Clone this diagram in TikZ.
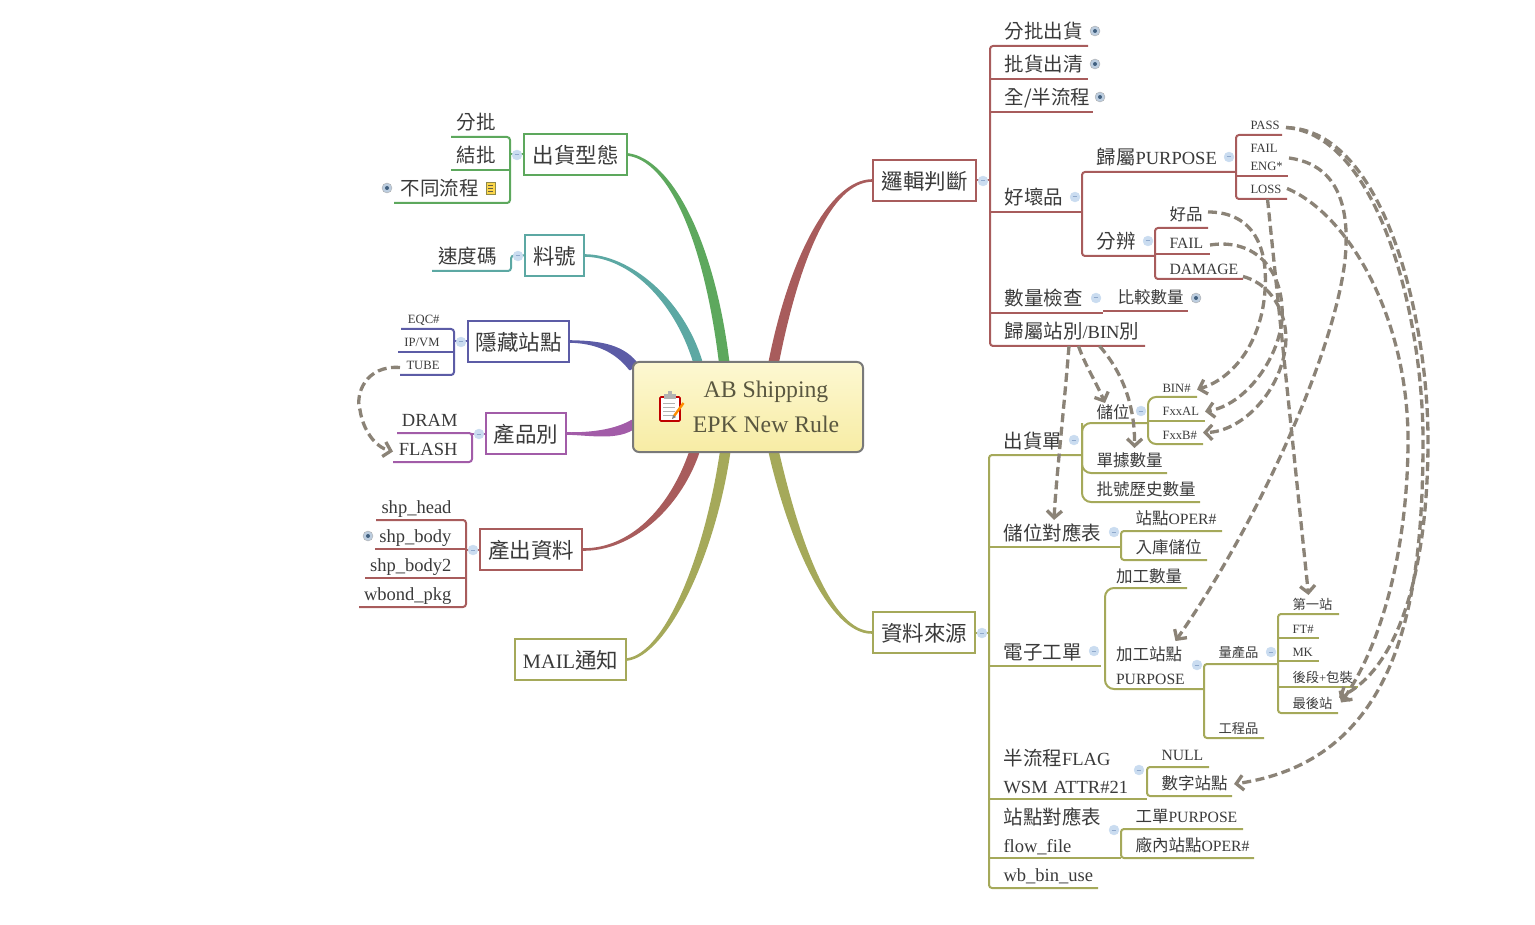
\documentclass[tikz,border=0pt]{standalone}
\usepackage{fontspec}
\setmainfont[Scale=0.95]{Liberation Serif}
\newfontfamily\cjk{Noto Sans CJK TC}
\usetikzlibrary{arrows.meta,backgrounds,calc}

\newcommand{\zh}[1]{{\cjk #1}}
\newcommand{\branch}[6]{\fill[#1,draw=#1,line width=2.6pt,line join=round] (#2) .. controls (#3) and (#4) .. (#5) -- (#6) .. controls ($(#4)+(#6)-(#5)$) and (#3) .. (#2) -- cycle;}

\definecolor{cred}{HTML}{A85C5C}
\definecolor{colive}{HTML}{A5A95A}
\definecolor{cgreen}{HTML}{5DA85D}
\definecolor{cteal}{HTML}{5CA8A3}
\definecolor{cblue}{HTML}{5C5CA6}
\definecolor{cpurple}{HTML}{A25CA8}
\definecolor{ctext}{HTML}{3A3A3A}
\definecolor{cdash}{HTML}{8B8377}
\definecolor{rtop}{HTML}{FDF8D2}
\definecolor{rbot}{HTML}{F7ECA4}
\definecolor{rtext}{HTML}{5A5740}
\definecolor{mfill}{HTML}{CADCF0}
\definecolor{mbar}{HTML}{8FA9CC}
\definecolor{pfill}{HTML}{BCCDDF}
\definecolor{pdot}{HTML}{41607F}

\tikzset{
  fbig/.style={font=\fontsize{19.5}{28.5}\selectfont,text height=14pt,text depth=7pt},
  fmid/.style={font=\fontsize{16.5}{24}\selectfont,text height=13pt,text depth=7pt},
  fsmall/.style={font=\fontsize{13.3}{18}\selectfont,text height=10pt,text depth=5pt},
  rtopic/.style={anchor=south west,inner sep=0pt,outer sep=0pt,text=ctext,align=left,text width=#1,
    execute at begin node={\leftskip=14.5pt}},
  ltopic/.style={anchor=south east,inner sep=0pt,outer sep=0pt,text=ctext,align=right,text width=#1,
    execute at begin node={\rightskip=14.5pt}},
  mainbox/.style={draw=#1,fill=white,line width=2pt,inner sep=0pt,text=ctext,
    font=\fontsize{21.5}{26}\selectfont,minimum height=41pt,text height=18pt,text depth=0pt},
  rootbox/.style={draw=gray!95!black,line width=2pt,rounded corners=6pt,top color=rtop,
    bottom color=rbot,inner sep=0pt,minimum width=230pt,minimum height=90pt,
    text=rtext,align=center,font=\fontsize{25}{35}\selectfont},
  expm/.style={circle,draw=mfill,fill=mfill,inner sep=0pt,minimum size=10pt,
    path picture={\draw[mbar,line width=1pt] (-2.4,0) -- (2.4,0);}},
  expp/.style={circle,draw=gray!65,fill=pfill,inner sep=0pt,minimum size=10pt,
    path picture={\fill[pdot] (0,0) circle (2);}},
  redline/.style={draw=cred,line width=2pt},
  oliveline/.style={draw=colive,line width=2pt},
  greenline/.style={draw=cgreen,line width=2pt},
  tealline/.style={draw=cteal,line width=2pt},
  blueline/.style={draw=cblue,line width=2pt},
  purpleline/.style={draw=cpurple,line width=2pt},
  relation/.style={draw=cdash,line width=3.3pt,dash pattern=on 9pt off 4.5pt,
    -{Straight Barb[length=7pt,width=15pt]}}
}

\begin{document}
\begin{tikzpicture}[x=1pt,y=-1pt]
\useasboundingbox (0,0) rectangle (1535,925);

% centre and main topics
\node[rootbox] (root) at (748,407) {\hspace*{36pt}AB Shipping\\\hspace*{36pt}EPK New Rule};
\node[mainbox=cgreen,minimum width=103pt] (ship) at (575.5,154.5) {\zh{出貨型態}};
\node[mainbox=cteal,minimum width=59pt] (part) at (554.5,255.5) {\zh{料號}};
\node[mainbox=cblue,minimum width=101pt] (hide) at (518.5,341.5) {\zh{隱藏站點}};
\node[mainbox=cpurple,minimum width=80pt] (prod) at (526,433.5) {\zh{產品別}};
\node[mainbox=cred,minimum width=102pt] (outp) at (531,549.5) {\zh{產出資料}};
\node[mainbox=colive,minimum width=111pt] (mail) at (570.5,659.5) {MAIL\zh{通知}};
\node[mainbox=cred,minimum width=103pt] (logic) at (924.5,180.5) {\zh{邏輯判斷}};
\node[mainbox=colive,minimum width=102pt] (srcd) at (924,632.5) {\zh{資料來源}};

\begin{scope}[on background layer]
\branch{cgreen}{ship.east}{670,160}{705,240}{[xshift=-28pt]root.north}{[xshift=-20pt]root.north}
\branch{cteal}{part.east}{630,256}{675,300}{[xshift=-54pt]root.north}{[xshift=-47pt]root.north}
\branch{cblue}{hide.east}{595,342}{615,350}{[xshift=-2pt,yshift=-8pt]root.north west}{[xshift=4pt,yshift=-2pt]root.north west}
\branch{cpurple}{prod.east}{590,434}{615,431}{[yshift=-14pt]root.west}{[yshift=-22pt]root.west}
\branch{cred}{outp.east}{630,550}{670,510}{[xshift=-58pt]root.south}{[xshift=-50pt]root.south}
\branch{colive}{mail.east}{665,655}{705,560}{[xshift=-27pt]root.south}{[xshift=-19pt]root.south}
\branch{cred}{logic.west}{830,181}{790,260}{[xshift=22pt]root.north}{[xshift=30pt]root.north}
\branch{colive}{srcd.west}{830,633}{790,540}{[xshift=22pt]root.south}{[xshift=30pt]root.south}
\end{scope}

% left side
\node[ltopic=59pt,fbig] (sa) at (510,137) {\zh{分批}};
\node[ltopic=59pt,fbig] (sb) at (510,170) {\zh{結批}};
\node[ltopic=116pt,fbig] (sc) at (510,203) {\zh{不同流程}\hspace*{17pt}};
\draw[greenline,rounded corners=3pt] (sa.south west) -- (sa.south east) -- (sc.south east) -- (sc.south west);
\draw[greenline] (sb.south west) -- (sb.south east);
\draw[greenline] (ship.west) -- (ship.west -| sa.south east);

\node[ltopic=79pt,fbig] (pa) at (511,271) {\zh{速度碼}};
\draw[tealline,rounded corners=3pt] (pa.south west) -- (pa.south east) -- (pa.south east |- part.west) -- (part.west);

\node[ltopic=53pt,fsmall] (ha) at (454,329) {EQC\#};
\node[ltopic=56pt,fsmall] (hb) at (454,352) {IP/VM};
\node[ltopic=54pt,fsmall] (hc) at (454,375) {TUBE};
\draw[blueline,rounded corners=3pt] (ha.south west) -- (ha.south east) -- (hc.south east) -- (hc.south west);
\draw[blueline] (hb.south west) -- (hb.south east);
\draw[blueline] (hide.west) -- (hide.west -| ha.south east);

\node[ltopic=75pt,fbig] (da) at (472,433) {DRAM};
\node[ltopic=79pt,fbig] (db) at (472,462) {FLASH};
\draw[purpleline,rounded corners=3pt] (da.south west) -- (da.south east) -- (db.south east) -- (db.south west);
\draw[purpleline] (prod.west) -- (prod.west -| da.south east);

\node[ltopic=90pt,fbig] (oa) at (466,520) {shp\_head};
\node[ltopic=91pt,fbig] (ob) at (466,549) {shp\_body};
\node[ltopic=101pt,fbig] (oc) at (466,578) {shp\_body2};
\node[ltopic=107pt,fbig] (od) at (466,607) {wbond\_pkg};
\draw[redline,rounded corners=3pt] (oa.south west) -- (oa.south east) -- (od.south east) -- (od.south west);
\foreach \n in {ob,oc} \draw[redline] (\n.south west) -- (\n.south east);
\draw[redline] (outp.west) -- (outp.west -| oa.south east);

% right side, logic
\node[rtopic=98pt,fbig] (la) at (990,46) {\zh{分批出貨}};
\node[rtopic=98pt,fbig] (lb) at (990,79) {\zh{批貨出清}};
\node[rtopic=103pt,fbig] (lc) at (990,112) {\zh{全/半流程}};
\node[rtopic=92pt,fbig] (ld) at (990,212) {\zh{好壞品}};
\node[rtopic=113pt,fbig] (le) at (990,313) {\zh{數量檢查}};
\node[rtopic=155pt,fbig] (lf) at (990,346) {\zh{歸屬站別}/BIN\zh{別}};
\node[rtopic=85pt,fmid] (lg) at (1103,311) {\zh{比較數量}};
\draw[redline,rounded corners=3pt] (la.south east) -- (la.south west) -- (lf.south west) -- (lf.south east);
\foreach \n in {lb,lc,ld,le,lg} \draw[redline] (\n.south west) -- (\n.south east);
\draw[redline] (logic.east) -- (logic.east -| la.south west);

\node[rtopic=154pt,fbig] (ga) at (1082,172) {\zh{歸屬}PURPOSE};
\node[rtopic=73pt,fbig] (gb) at (1082,256) {\zh{分辨}};
\draw[redline,rounded corners=3pt] (ga.south east) -- (ga.south west) -- (gb.south west) -- (gb.south east);

\node[rtopic=46pt,fsmall] (pp) at (1236,135) {PASS};
\node[rtopic=52pt,fsmall,text depth=23pt] (pf) at (1236,176) {FAIL\\ENG*};
\node[rtopic=51pt,fsmall] (pl) at (1236,199) {LOSS};
\draw[redline,rounded corners=3pt] (pp.south east) -- (pp.south west) -- (pl.south west) -- (pl.south east);
\draw[redline] (pf.south west) -- (pf.south east);

\node[rtopic=53pt,fmid] (ka) at (1155,228) {\zh{好品}};
\node[rtopic=55pt,fmid,text depth=5pt] (kb) at (1155,254) {FAIL};
\node[rtopic=88pt,fmid,text depth=4pt] (kc) at (1155,279) {DAMAGE};
\draw[redline,rounded corners=3pt] (ka.south east) -- (ka.south west) -- (kc.south west) -- (kc.south east);
\draw[redline] (kb.south west) -- (kb.south east);

% right side, data source
\node[rtopic=92pt,fbig] (sda) at (989,455) {\zh{出貨單}};
\node[rtopic=132pt,fbig] (sdb) at (989,547) {\zh{儲位對應表}};
\node[rtopic=112pt,fbig] (sdc) at (989,666) {\zh{電子工單}};
\node[rtopic=158pt,fbig,text depth=34pt] (sdd) at (989,799) {\zh{半流程}FLAG\\WSM ATTR\#21};
\node[rtopic=132pt,fbig,text depth=34pt] (sde) at (989,858) {\zh{站點對應表}\\flow\_file};
\node[rtopic=109pt,fbig] (sdf) at (989,888) {wb\_bin\_use};
\draw[oliveline,rounded corners=3pt] (sda.south east) -- (sda.south west) -- (sdf.south west) -- (sdf.south east);
\foreach \n in {sdb,sdc,sdd,sde} \draw[oliveline] (\n.south west) -- (\n.south east);
\draw[oliveline] (srcd.east) -- (srcd.east -| sda.south west);

\node[rtopic=66pt,fmid,text depth=5pt] (ca) at (1082,423) {\zh{儲位}};
\node[rtopic=85pt,fmid] (cb) at (1082,473) {\zh{單據數量}};
\node[rtopic=118pt,fmid] (cc) at (1082,502) {\zh{批號歷史數量}};
\draw[oliveline,rounded corners=9pt] (ca.south east) -- (ca.south west) -- (cc.south west) -- (cc.south east);
\draw[oliveline,rounded corners=9pt] (cb.south east) -- (cb.south west) -- (ca.south west);

\node[rtopic=49pt,fsmall] (ba) at (1148,397) {BIN\#};
\node[rtopic=57pt,fsmall] (bb) at (1148,421) {FxxAL};
\node[rtopic=55pt,fsmall] (bc) at (1148,444) {FxxB\#};
\draw[oliveline,rounded corners=8pt] (ba.south east) -- (ba.south west) -- (bc.south west) -- (bc.south east);
\draw[oliveline] (bb.south west) -- (bb.south east);

\node[rtopic=101pt,fmid] (ea) at (1121,531) {\zh{站點}OPER\#};
\node[rtopic=86pt,fmid] (eb) at (1121,560) {\zh{入庫儲位}};
\draw[oliveline,rounded corners=3pt] (ea.south east) -- (ea.south west) -- (eb.south west) -- (eb.south east);

\node[rtopic=82pt,fmid,text depth=6pt,execute at begin node={\leftskip=11pt}] (wa) at (1105,588) {\zh{加工數量}};
\node[rtopic=99pt,fmid,text depth=29pt,execute at begin node={\leftskip=11pt}] (wb) at (1105,689) {\zh{加工站點}\\PURPOSE};
\draw[oliveline,rounded corners=9pt] (wa.south east) -- (wa.south west) -- (wb.south west) -- (wb.south east);

\node[rtopic=74pt,fsmall,text depth=7pt] (ta) at (1204,664) {\zh{量產品}};
\node[rtopic=60pt,fsmall] (tb) at (1204,738) {\zh{工程品}};
\draw[oliveline,rounded corners=3pt] (ta.south east) -- (ta.south west) -- (tb.south west) -- (tb.south east);

\node[rtopic=61pt,fsmall] (ma) at (1278,614) {\zh{第一站}};
\node[rtopic=41pt,fsmall] (mb) at (1278,638) {FT\#};
\node[rtopic=41pt,fsmall] (mc) at (1278,661) {MK};
\node[rtopic=80pt,fsmall] (md) at (1278,687) {\zh{後段}+\zh{包裝}};
\node[rtopic=60pt,fsmall] (me) at (1278,713) {\zh{最後站}};
\draw[oliveline,rounded corners=3pt] (ma.south east) -- (ma.south west) -- (me.south west) -- (me.south east);
\foreach \n in {mb,mc,md} \draw[oliveline] (\n.south west) -- (\n.south east);

\node[rtopic=62pt,fmid] (na) at (1147,767) {NULL};
\node[rtopic=85pt,fmid] (nb) at (1147,796) {\zh{數字站點}};
\draw[oliveline,rounded corners=3pt] (na.south east) -- (na.south west) -- (nb.south west) -- (nb.south east);

\node[rtopic=122pt,fmid] (ua) at (1121,829) {\zh{工單}PURPOSE};
\node[rtopic=133pt,fmid] (ub) at (1121,858) {\zh{廠內站點}OPER\#};
\draw[oliveline,rounded corners=3pt] (ua.south east) -- (ua.south west) -- (ub.south west) -- (ub.south east);

% collapse marks
\foreach \x/\y [count=\i] in {517/155,518/256,461/342,479/434,473/550,983/181,1229/157,1075/197,1148/241,1096/298,982/633,1074/440,1141/411,1114/532,1094/651,1197/665,1271/652,1139/770,1114/830}
  \node[expm] (m\i) at (\x,\y) {};
\foreach \x/\y [count=\i] in {387/188,368/536,1095/31,1095/64,1100/97,1196/298}
  \node[expp] (e\i) at (\x,\y) {};

% relations
\draw[relation] (hc.west) .. controls (365,365) and (355,395) .. (360,410) .. controls (363,430) and (375,447) .. (db.west);
\draw[relation] ([xshift=4pt]pp.east) .. controls (1385,130) and (1428,320) .. (1428,440) .. controls (1428,580) and (1395,670) .. ([xshift=1pt,yshift=8pt]me.east);
\draw[relation] ([xshift=4pt]pp.east) .. controls (1380,135) and (1423,320) .. (1423,440) .. controls (1423,600) and (1400,760) .. ([xshift=2pt,yshift=2pt]nb.east);
\draw[relation] ([xshift=1pt,yshift=-15pt]pf.east |- pf.north) .. controls (1340,165) and (1350,210) .. (1345,260) .. controls (1335,350) and (1260,520) .. ([xshift=21pt,yshift=6pt]wb.north);
\draw[relation] ([yshift=3pt]pl.east) .. controls (1350,215) and (1408,320) .. (1408,440) .. controls (1408,540) and (1385,640) .. ([xshift=3pt,yshift=3pt]me.east);
\draw[relation] ([xshift=6pt]pl.south) -- ([yshift=4pt]ma.north);
\draw[relation] ([yshift=6pt]ka.east) .. controls (1255,212) and (1268,250) .. (1265,290) .. controls (1262,340) and (1235,378) .. (ba.east);
\draw[relation] (kb.east) .. controls (1255,238) and (1285,270) .. (1282,320) .. controls (1278,360) and (1245,405) .. ([yshift=2pt]bb.east);
\draw[relation] ([yshift=-6pt]kc.east) .. controls (1275,285) and (1290,320) .. (1285,350) .. controls (1278,395) and (1240,432) .. ([yshift=4pt]bc.east);
\draw[relation] ([xshift=1.5pt]lf.south) .. controls (1063,420) and (1056,480) .. ([yshift=6pt,xshift=-1pt]sdb.north);
\draw[relation] ([xshift=11pt]lf.south) .. controls (1085,365) and (1095,380) .. ([xshift=-10pt,yshift=2pt]ca.north);
\draw[relation] ([xshift=32pt]lf.south) .. controls (1125,375) and (1135,410) .. ([xshift=10pt,yshift=5pt]cb.north);

% icons
\filldraw[fill=yellow!60!orange!70,draw=yellow!50!black,line width=.7pt] (486,182) rectangle (495,194);
\foreach \y in {185,188,191} \draw[yellow!30!black,line width=.5pt] (488,\y) -- (493,\y);
\filldraw[fill=white,draw=red!75!black,line width=1.6pt,rounded corners=1pt] (660,397) rectangle (680,421);
\fill[gray!60] (664,394) rectangle (676,399);
\fill[gray!60] (668,391.5) rectangle (672,395);
\foreach \y in {403,407,411,415} \draw[gray!60,line width=.6pt] (663,\y) -- (675,\y);
\draw[orange!90!yellow,line width=2.4pt] (683.5,403) -- (674,416);
\fill[gray] (672,419) -- (673,415) -- (676,417) -- cycle;
\end{tikzpicture}
\end{document}
